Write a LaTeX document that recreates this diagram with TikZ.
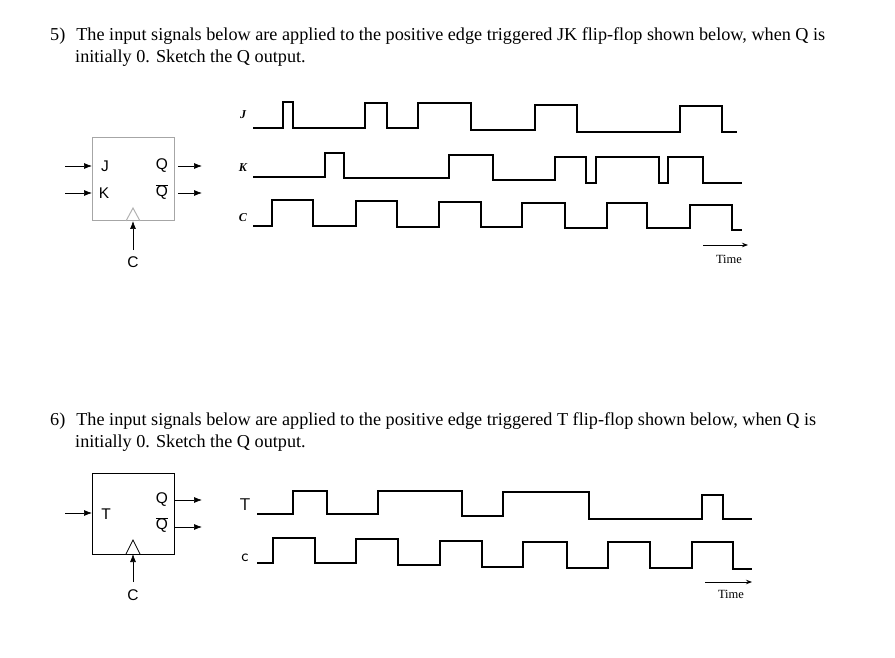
\documentclass[tikz,border=0pt]{standalone}
\usepackage{fontspec}
\setmainfont{Liberation Serif}
\newfontfamily\arialf{Liberation Sans}
\usetikzlibrary{arrows.meta}
\begin{document}
\begin{tikzpicture}[x=1pt,y=-1pt,
  ff/.style={draw=gray!70,line width=1pt},
  ffb/.style={draw=black,line width=1pt},
  pin/.style={-{Latex[length=8pt,width=6pt]},line width=0.7pt},
  wave/.style={line width=1.6pt,line join=miter},
  lbl/.style={font=\arialf\fontsize{15.5}{15.5}\selectfont},
  q/.style={font=\fontsize{18.2}{20}\selectfont,anchor=base west,inner sep=0pt},
  wl/.style={font=\bfseries\itshape\fontsize{12}{12}\selectfont},
  tl/.style={font=\fontsize{12.5}{12.5}\selectfont}]
\useasboundingbox (0,0) rectangle (895,658);
\newcommand{\qbar}{\ensuremath{\overline{\mbox{Q}}}}
% Questions
\node[q] (q5a) at (50,41) {5)\hspace{11pt}The input signals below are applied to the positive edge triggered JK flip-flop shown below, when Q is};
\node[q] (q5b) at (75,63) {initially 0. Sketch the Q output.};
\node[q] (q6a) at (50,425) {6)\hspace{11pt}The input signals below are applied to the positive edge triggered T flip-flop shown below, when Q is};
\node[q] (q6b) at (75,447) {initially 0. Sketch the Q output.};
% JK flip-flop
\draw[ff] (92,138) rectangle (174,221);
\draw[ff,draw=gray!60] (126,221) -- (133,208) -- (140,221);
\node[lbl] (jl) at (105,166) {J};
\node[lbl] (kl) at (104,193) {K};
\node[lbl] (ql) at (162,166) {Q};
\node[lbl] (qbl) at (162,192) {\qbar};
\node[lbl] (cl) at (133,262) {C};
\draw[pin] (65,166) -- (92,166);
\draw[pin] (65,193) -- (92,193);
\draw[pin] (178,166) -- (202,166);
\draw[pin] (178,193) -- (202,193);
\draw[pin] (133,250) -- (133,221);
% JK waves
\node[wl] (wj) at (243,115) {J};
\node[wl] (wk) at (243,168) {K};
\node[wl] (wc) at (243,218) {C};
\draw[wave] (253,128) -| (283,102) -| (293,128) -| (365,103) -| (387,128) -| (418,103) -| (471,130) -| (535,105) -| (577,132) -| (680,106) -| (722,132) -- (737,132);
\draw[wave] (253,177) -| (325,153) -| (344,178) -| (449,155) -| (493,180) -| (555,157) -| (586,183) -| (596,157) -| (659,183) -| (668,157) -| (703,183) -- (742,183);
\draw[wave] (253,226) -| (272,200) -| (313,226) -| (356,201) -| (397,227) -| (439,202) -| (481,227) -| (522,203) -| (565,228) -| (607,203) -| (647,228) -| (690,205) -| (732,230) -- (742,230);
\draw[-{Stealth[length=6pt]},line width=0.8pt] (703,245) -- (748,245);
\node[tl] (tm1) at (729,259) {Time};
% T flip-flop
\draw[ffb] (92,473) rectangle (174,554);
\draw[ffb,line width=0.7pt] (126,554) -- (133,540) -- (140,554);
\node[lbl] (tl1) at (106,514) {T};
\node[lbl] (tq) at (162,500) {Q};
\node[lbl] (tqb) at (162,525) {\qbar};
\node[lbl] (tc) at (133,595) {C};
\draw[pin] (65,513) -- (92,513);
\draw[pin] (175,500) -- (202,500);
\draw[pin] (175,527) -- (202,527);
\draw[pin] (133,582) -- (133,554);
% T waves
\node[font=\fontsize{17}{17}\selectfont] (wt) at (245,505) {$\mathsf{T}$};
\node[font=\fontsize{17}{17}\selectfont] (wc2) at (245,558) {$\mathsf{c}$};
\draw[wave] (257,514) -| (293,491) -| (327,514) -| (378,491) -| (462,516) -| (503,492) -| (589,519) -| (702,495) -| (723,519) -- (752,519);
\draw[wave] (257,563) -| (273,538) -| (315,563) -| (356,539) -| (398,565) -| (440,541) -| (482,567) -| (523,542) -| (567,568) -| (608,542) -| (650,568) -| (692,542) -| (733,569) -- (752,569);
\draw[-{Stealth[length=6pt]},line width=0.8pt] (705,582) -- (752,582);
\node[tl] (tm2) at (731,594) {Time};
\end{tikzpicture}
\end{document}
